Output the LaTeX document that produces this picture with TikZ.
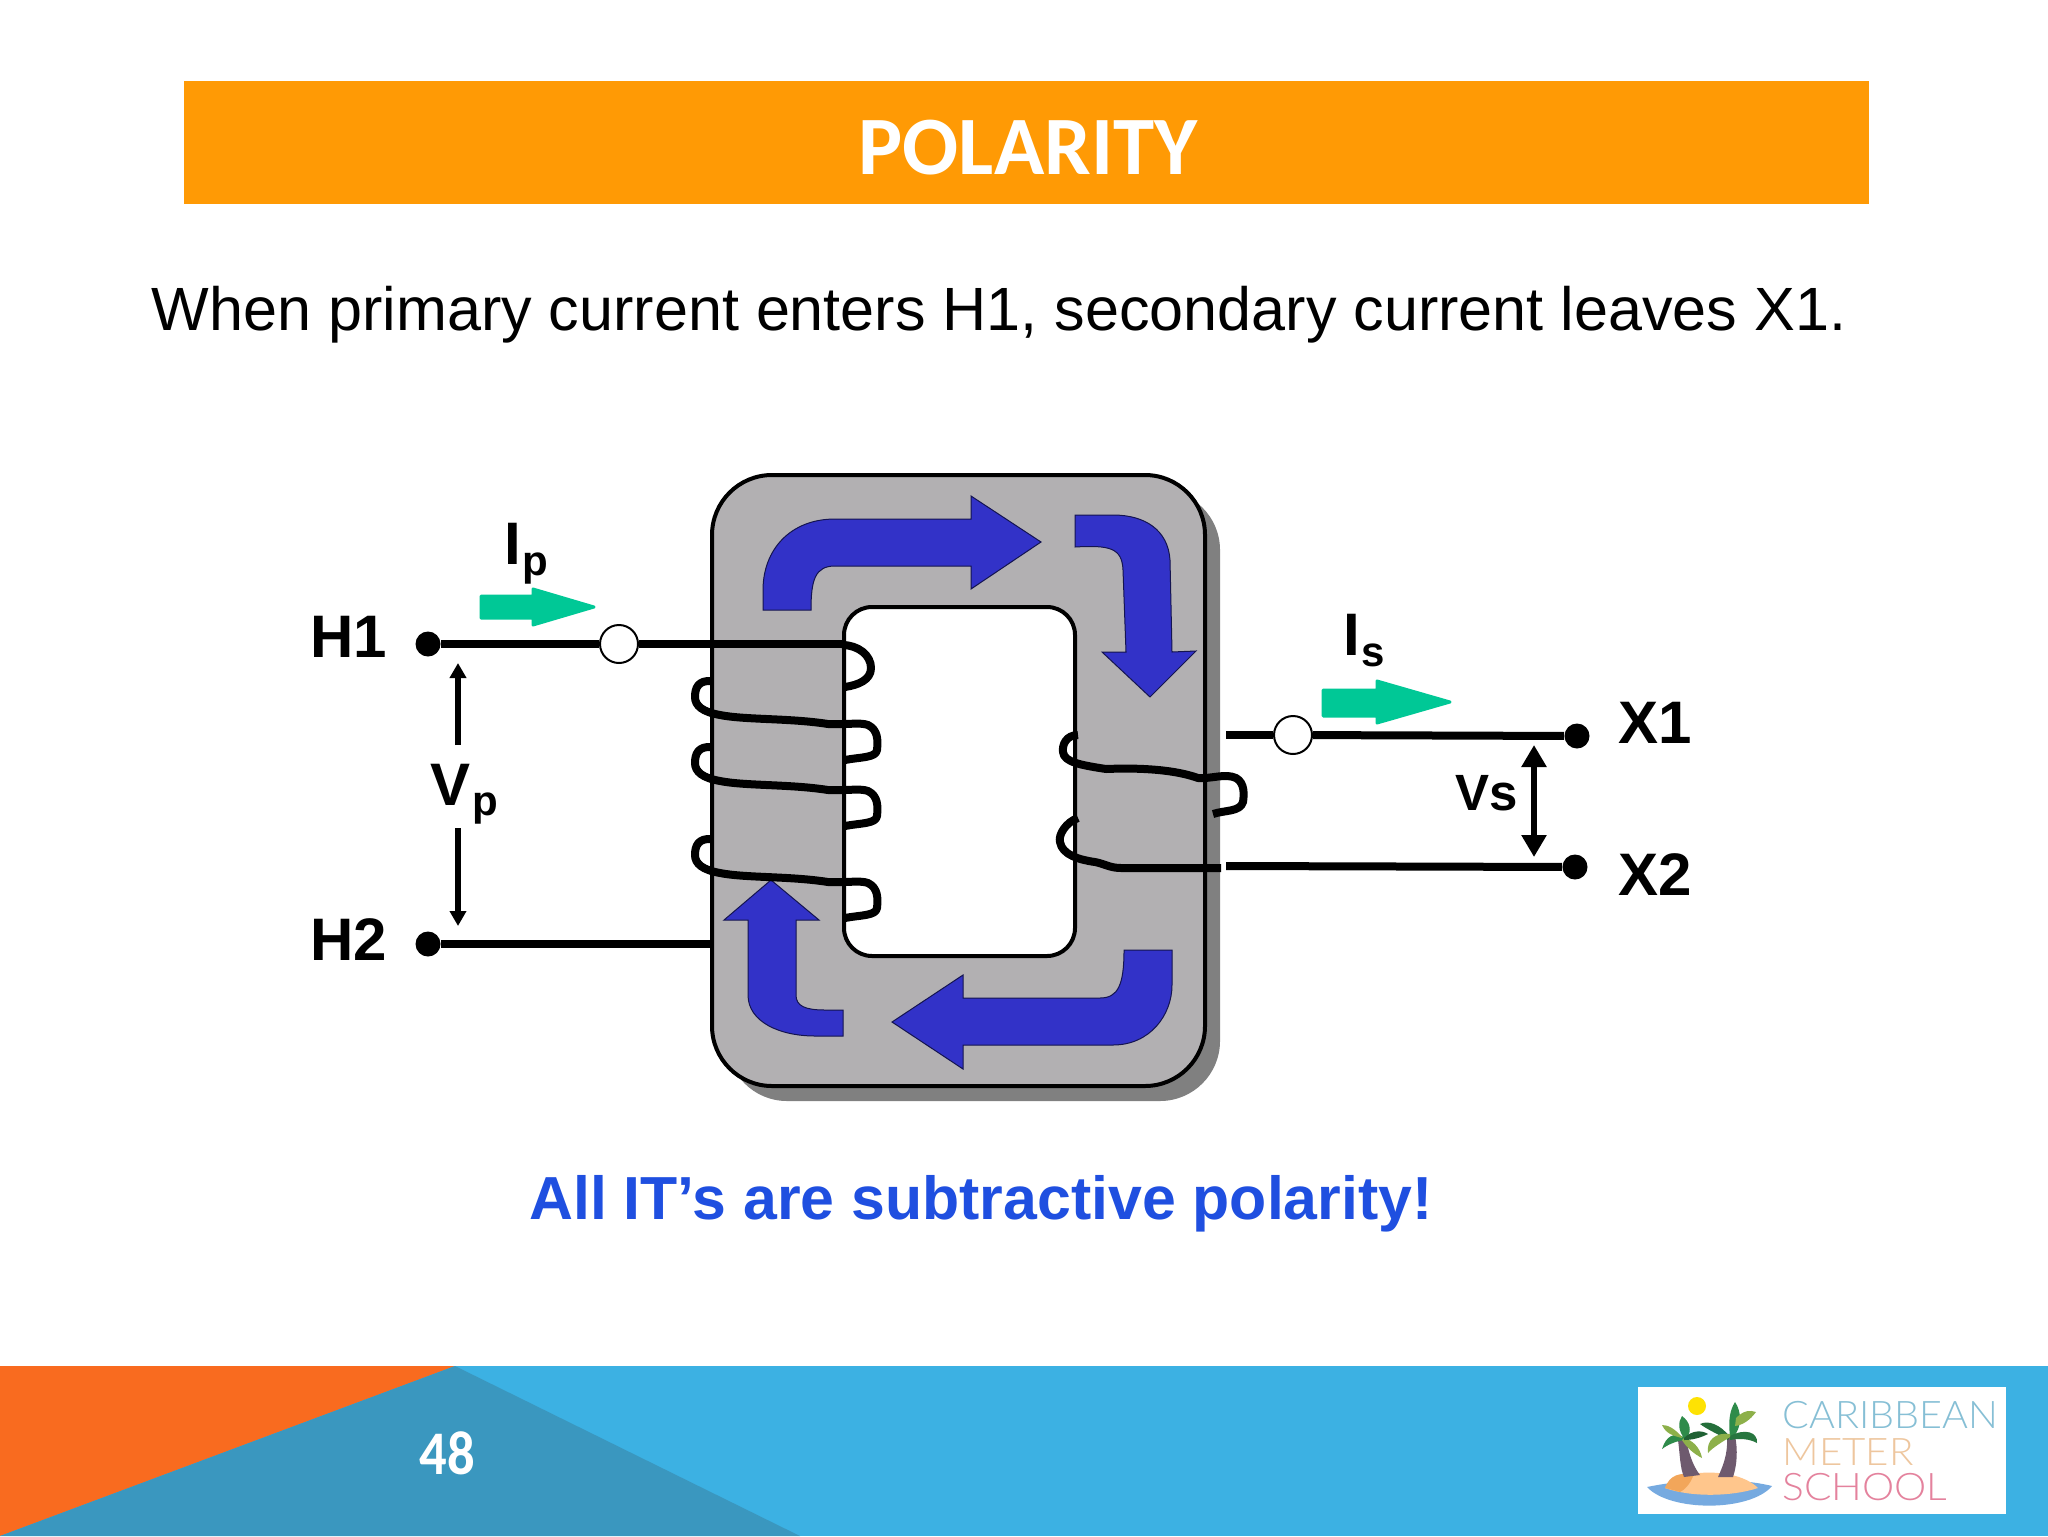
\documentclass[tikz,border=0pt]{standalone}
\usepackage{fontspec}
\setmainfont{Liberation Sans}
\newfontfamily\titlefont{Carlito}
\newfontfamily\logofont{Lato Light}
\usetikzlibrary{arrows.meta}
\definecolor{barorange}{HTML}{FF9A05}
\definecolor{footblue}{HTML}{3CB1E3}
\definecolor{footorange}{HTML}{F96B1F}
\definecolor{footteal}{HTML}{3A97BF}
\definecolor{coregray}{HTML}{B2B0B2}
\definecolor{shadowgray}{HTML}{808080}
\definecolor{fluxblue}{HTML}{3232C8}
\definecolor{currentgreen}{HTML}{00C896}
\definecolor{notered}{HTML}{1F4FE0}
\definecolor{leafa}{HTML}{2E8B4A}
\definecolor{leafb}{HTML}{8DB04A}
\definecolor{trunk}{HTML}{6E5A6E}
\tikzset{
  px/.style={x=0.5pt,y=-0.5pt},
  wire/.style={draw=black,line width=4pt,line cap=butt,line join=round},
  flux/.style={fill=fluxblue,draw=black!60!fluxblue,line width=0.5pt},
  green arrow/.style={fill=currentgreen,draw=currentgreen,line width=1.5pt,line join=round},
  term/.style={circle,fill=black,minimum size=12.5pt,inner sep=0pt},
  ring/.style={circle,fill=white,draw=black,line width=1pt,minimum size=19pt,inner sep=0pt},
  lab/.style={font=\fontsize{30}{36}\selectfont\bfseries,inner sep=0pt,anchor=base west},
  sublab/.style={font=\fontsize{21}{26}\selectfont\bfseries,inner sep=0pt,anchor=base west},
  volt/.style={draw=black,line width=3pt,-{Stealth[length=7.5pt,width=8pt,inset=0pt]}},
  volts/.style={draw=black,line width=3pt,{Stealth[length=11pt,width=12pt,inset=0pt]}-{Stealth[length=11pt,width=12pt,inset=0pt]}},
  logotext/.style={font=\logofont\fontsize{19}{22}\selectfont,inner sep=0pt,anchor=base west},
}
\begin{document}
\begin{tikzpicture}[px]
\useasboundingbox (0,0) rectangle (2048,1536);
\fill[white] (0,0) rectangle (2048,1536);
% title
\fill[barorange] (184,81) rectangle (1869,204);
\node[text=white,font=\titlefont\bfseries\fontsize{41.5}{50}\selectfont,inner sep=0pt,anchor=base] (title) at (1028,174) {POLARITY};
\node[font=\fontsize{30.55}{34}\selectfont,inner sep=0pt,anchor=base] (line) at (999,330) {When primary current enters H1, secondary current leaves X1.};
% core
\fill[shadowgray,rounded corners=30pt] (727,490) rectangle (1220,1101);
\draw[fill=coregray,draw=black,line width=2pt,rounded corners=30pt] (712,475) rectangle (1205,1086);
\draw[fill=white,draw=black,line width=2pt,rounded corners=14pt] (844,607) rectangle (1075,956);
% flux arrows
\path[flux] (763,610) -- (811,610) .. controls (811,580) and (815,566) .. (835,566) -- (971,566) -- (971,589) -- (1041,542) -- (971,496) -- (971,519) -- (835,519) .. controls (790,519) and (763,550) .. (763,590) -- cycle;
\path[flux] (1075,515) -- (1075,547) .. controls (1110,545) and (1122,548) .. (1123,570) -- (1126,652) -- (1102,652) -- (1150,697) -- (1196,651) -- (1172,652) -- (1170,560) .. controls (1168,530) and (1145,515) .. (1113,515) -- cycle;
\path[flux] (1172,950) -- (1124,950) .. controls (1124,985) and (1118,998) .. (1100,998) -- (963,998) -- (963,975) -- (892,1022) -- (963,1069) -- (963,1045) -- (1113,1045) .. controls (1150,1045) and (1172,1015) .. (1172,985) -- cycle;
\path[flux] (771,880) -- (724,920) -- (748,920) -- (748,995) .. controls (748,1022) and (780,1036) .. (815,1036) -- (843,1036) -- (843,1010) -- (825,1010) .. controls (805,1010) and (796,1006) .. (796,995) -- (796,920) -- (819,920) -- cycle;
% terminals
\node[term] (H1dot) at (428,644) {};
\node[term] (H2dot) at (428,944) {};
\node[term] (X1dot) at (1577,736) {};
\node[term] (X2dot) at (1575,867) {};
\coordinate (H1in) at (844,645);
\coordinate (H2in) at (712,944);
\coordinate (X1in) at (1226,735);
\coordinate (X2in) at (1226,866);
\node[ring] (Hring) at (619,644) {};
\node[ring] (Xring) at (1293,735) {};
\draw[wire] (H1dot) -- (Hring);
\draw[wire] (Hring) -- (Hring -| H1in);
\draw[wire] (H2dot) -- (H2dot -| H2in);
\draw[wire] (X1in) -- (Xring);
\draw[wire] (Xring) -- (X1dot);
\draw[wire] (X2in) -- (X2dot);
% primary coil
\draw[wire] (842,645) .. controls (858,645) and (871,655) .. (871,668) .. controls (871,680) and (858,685) .. (845,687);
\foreach \dy in {0,66,158}{
  \draw[wire,shift={(0,\dy)}] (712,681) .. controls (698,680) and (695,688) .. (695,697) .. controls (695,706) and (703,712) .. (720,715) .. controls (745,720) and (790,718) .. (828,724) .. controls (845,725) and (860,722) .. (868,725) .. controls (878,730) and (878,740) .. (877,750) .. controls (876,758) and (860,757) .. (845,760);
}
% secondary coil
\draw[wire] (1078,735) .. controls (1066,735) and (1062,745) .. (1063,752) .. controls (1064,762) and (1080,765) .. (1106,769) .. controls (1130,768) and (1170,768) .. (1198,778) .. controls (1212,779) and (1225,773) .. (1236,778) .. controls (1245,783) and (1244,795) .. (1243,802) .. controls (1240,812) and (1225,810) .. (1213,814);
\draw[wire] (1078,818) .. controls (1066,822) and (1058,835) .. (1060,842) .. controls (1062,855) and (1080,860) .. (1095,862) .. controls (1105,864) and (1110,868) .. (1121,868) -- (1221,868);
% voltage arrows
\coordinate (Vpa) at (458,745);
\coordinate (Vpb) at (458,663);
\coordinate (Vpc) at (458,828);
\coordinate (Vpd) at (458,926);
\draw[volt] (Vpa) -- (Vpb);
\draw[volt] (Vpc) -- (Vpd);
\coordinate (Vsa) at (1534,745);
\coordinate (Vsb) at (1534,857);
\draw[volts] (Vsa) -- (Vsb);
% green arrows
\path[green arrow] (481,596) -- (533,596) -- (533,589) -- (594,607) -- (533,625) -- (533,618) -- (481,618) -- cycle;
\path[green arrow] (1323,690) -- (1377,690) -- (1377,681) -- (1450,702) -- (1377,723) -- (1377,716) -- (1323,716) -- cycle;
% labels
\node[lab] (H1) at (310,657) {H1};
\node[lab] (H2) at (310,960) {H2};
\node[lab] (X1) at (1618,743) {X1};
\node[lab] (X2) at (1618,895) {X2};
\node[lab] (Ip) at (504,564) {I};
\node[sublab] (Ips) at (522,575) {p};
\node[lab] (Is) at (1343,655) {I};
\node[sublab] (Iss) at (1361,666) {s};
\node[lab] (Vp) at (430,805) {V};
\node[sublab] (Vps) at (472,815) {p};
\node[inner sep=0pt,anchor=base west,font=\fontsize{25.5}{30}\selectfont\bfseries] (Vs) at (1455,810) {Vs};
\node[font=\fontsize{30.4}{34}\selectfont\bfseries,text=notered,inner sep=0pt,anchor=base] (note) at (981,1219) {All IT’s are subtractive polarity!};
% footer
\fill[footblue] (0,1366) rectangle (2048,1536);
\fill[footorange] (0,1366) -- (455,1366) -- (0,1536) -- cycle;
\fill[footteal] (0,1536) -- (455,1366) -- (800,1536) -- cycle;
\node[text=white,font=\titlefont\bfseries\fontsize{31}{34}\selectfont,inner sep=0pt,xscale=0.88] (page) at (447,1453) {48};
% logo
\fill[white] (1638,1387) rectangle (2006,1514);
\fill[yellow!85!orange] (1697,1406) circle (4.5pt);
\fill[cyan!60!blue!55] (1647,1487) .. controls (1690,1478) and (1740,1478) .. (1772,1486) .. controls (1750,1512) and (1670,1512) .. (1647,1487) -- cycle;
\fill[orange!45] (1665,1488) .. controls (1672,1470) and (1735,1465) .. (1758,1488) .. controls (1730,1497) and (1690,1497) .. (1665,1488) -- cycle;
\fill[orange!70!brown!70] (1665,1488) .. controls (1670,1474) and (1680,1473) .. (1694,1474) .. controls (1690,1485) and (1684,1490) .. (1680,1492) -- cycle;
\fill[trunk] (1678,1440) .. controls (1680,1455) and (1680,1468) .. (1684,1477) -- (1700,1475) .. controls (1692,1465) and (1688,1450) .. (1686,1438) -- cycle;
\fill[trunk] (1727,1438) .. controls (1728,1455) and (1722,1468) .. (1718,1477) -- (1733,1477) .. controls (1737,1465) and (1738,1450) .. (1735,1436) -- cycle;
% left palm
\fill[leafa] (1684,1437) .. controls (1674,1432) and (1666,1436) .. (1662,1449) .. controls (1670,1443) and (1678,1441) .. (1684,1440) -- cycle;
\fill[leafb] (1684,1438) .. controls (1692,1440) and (1700,1447) .. (1702,1458) .. controls (1694,1454) and (1686,1447) .. (1682,1440) -- cycle;
\fill[leafa] (1684,1438) .. controls (1678,1430) and (1678,1422) .. (1682,1416) .. controls (1690,1422) and (1692,1430) .. (1687,1438) -- cycle;
\fill[leafb] (1682,1437) .. controls (1674,1428) and (1668,1425) .. (1662,1425) .. controls (1666,1434) and (1674,1436) .. (1682,1438) -- cycle;
\fill[black!30!leafa] (1684,1438) .. controls (1692,1430) and (1702,1430) .. (1708,1434) .. controls (1700,1438) and (1692,1440) .. (1684,1440) -- cycle;
% right palm
\fill[black!20!leafa] (1730,1437) .. controls (1720,1424) and (1708,1420) .. (1700,1424) .. controls (1708,1430) and (1718,1434) .. (1728,1440) -- cycle;
\fill[leafa] (1730,1436) .. controls (1728,1420) and (1730,1410) .. (1735,1402) .. controls (1742,1412) and (1742,1428) .. (1733,1437) -- cycle;
\fill[black!15!leafa] (1730,1436) .. controls (1745,1428) and (1758,1432) .. (1757,1443) .. controls (1750,1439) and (1740,1438) .. (1730,1440) -- cycle;
\fill[leafb] (1730,1437) .. controls (1722,1442) and (1712,1448) .. (1708,1453) .. controls (1706,1440) and (1716,1432) .. (1730,1434) -- cycle;
\fill[leafb] (1736,1418) .. controls (1744,1410) and (1750,1410) .. (1756,1412) .. controls (1750,1420) and (1743,1425) .. (1735,1426) -- cycle;
\node[text=cyan!40!teal!55!white,logotext,xscale=1.04] (logoa) at (1782,1428) {CARIBBEAN};
\node[text=orange!40!brown!45!white,logotext,xscale=1.06] (logob) at (1782,1465) {METER};
\node[text=purple!60!pink!70!white,logotext,xscale=1.07] (logoc) at (1782,1500) {SCHOOL};
\end{tikzpicture}
\end{document}
